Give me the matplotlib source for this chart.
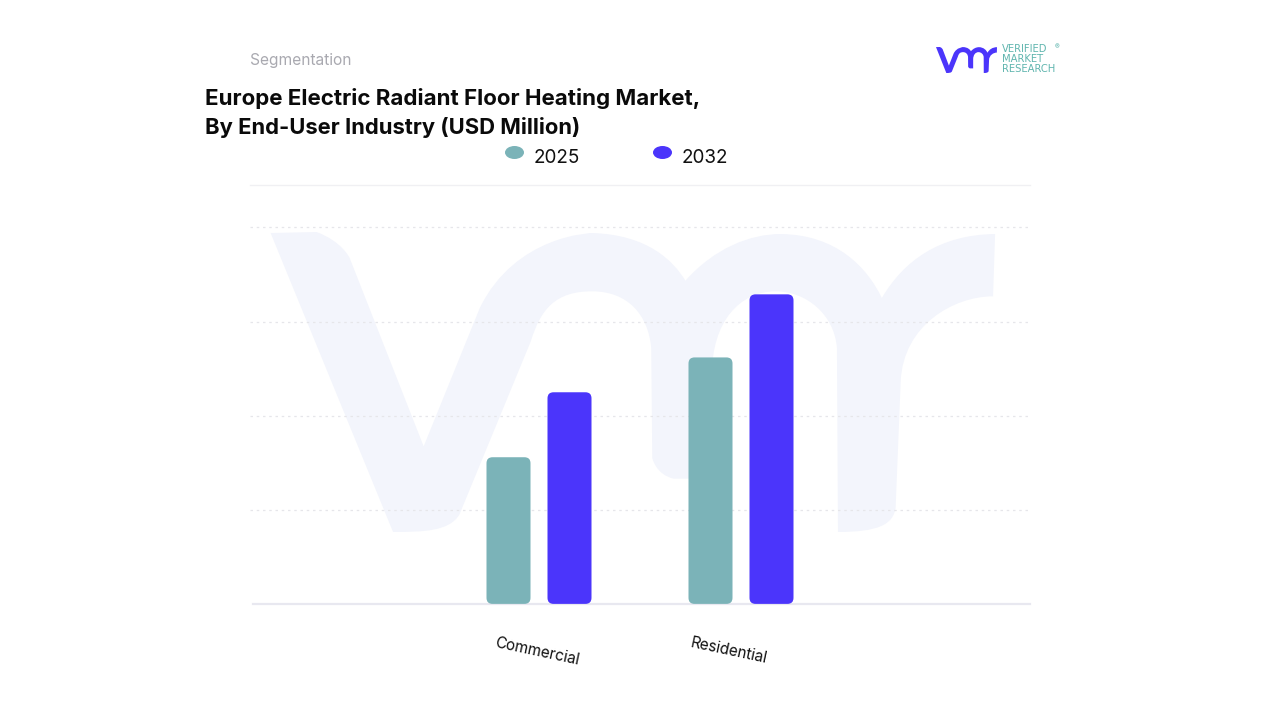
import numpy as np
import matplotlib
matplotlib.use('Agg')
import matplotlib.pyplot as plt
from matplotlib.patches import FancyBboxPatch, Ellipse, PathPatch
from matplotlib.path import Path

categories = ['Commercial', 'Residential']
years = ['2025', '2032']
values_2025 = [156, 262]
values_2032 = [225, 329]
grid_values = [100, 200, 300, 400]
top_value = 445

teal = '#7BB3B8'
blue = '#4B35FB'
W, H = 1280, 720

plt.rcParams['font.family'] = ['Inter', 'DejaVu Sans']

fig = plt.figure(figsize=(W / 100, H / 100), dpi=100)

# background layer in pixel coordinates, for the logo shapes
bg = fig.add_axes([0, 0, 1, 1])
bg.set_xlim(0, W)
bg.set_ylim(H, 0)
bg.axis('off')

# outline of the vmr mark, unit box is 1420 x 900
# L = straight, C = three bezier points
mark = [
    ('M', (0, 3)), ('L', (90, 0)), ('C', (140, 28), (155, 78), (155, 78)),
    ('L', (300, 643)), ('L', (410, 228)), ('C', (480, 8), (630, 3), (630, 3)),
    ('C', (740, 8), (790, 88), (813, 146)), ('C', (870, 48), (940, 6), (1000, 6)),
    ('C', (1110, 8), (1170, 108), (1198, 198)), ('C', (1240, 88), (1310, 8), (1420, 6)),
    ('L', (1416, 193)), ('C', (1340, 193), (1240, 278), (1235, 448)),
    ('L', (1225, 828)), ('C', (1220, 878), (1190, 900), (1112, 900)),
    ('L', (1110, 348)), ('C', (1105, 248), (1050, 178), (990, 178)),
    ('C', (920, 178), (865, 268), (865, 428)), ('L', (865, 740)),
    ('L', (790, 740)), ('C', (755, 728), (748, 678), (748, 678)),
    ('L', (746, 348)), ('C', (740, 248), (700, 178), (630, 178)),
    ('C', (560, 178), (530, 228), (510, 328)), ('L', (370, 848)),
    ('C', (350, 898), (300, 900), (240, 900)), ('L', (0, 3)),
]


def draw_mark(ax, x0, y0, w, h, col, z=0):
    verts, codes = [], []
    for item in mark:
        kind, pts = item[0], item[1:]
        for p in pts:
            verts.append((x0 + p[0] / 1420 * w, y0 + p[1] / 900 * h))
        if kind == 'M':
            codes.append(Path.MOVETO)
        elif kind == 'L':
            codes.append(Path.LINETO)
        else:
            codes += [Path.CURVE4] * 3
    ax.add_patch(PathPatch(Path(verts, codes), fc=col, ec='none', zorder=z))


# watermark
draw_mark(bg, 270.6, 232, 724.5, 300, '#F3F5FC')

# logo top right
draw_mark(bg, 936, 47, 61, 26, blue)
for word, y in zip(['VERIFIED', 'MARKET', 'RESEARCH'], [49.5, 59.5, 69.5]):
    bg.text(1002, y, word, color='#5FB5AE', fontsize=7.2, family=['DejaVu Sans'],
            va='center', ha='left')
bg.text(1055, 47.5, '\u00ae', color='#5FB5AE', fontsize=5, va='center', ha='left')

# chart
ax = fig.add_axes([250 / W, 1 - 604 / H, 780 / W, (604 - 185) / H])
ax.patch.set_alpha(0)
ax.set_xlim(0, 780)
ax.set_ylim(0, top_value)
for s in ax.spines.values():
    s.set_visible(False)
ax.set_xticks([])
ax.set_yticks([])

ax.axhline(top_value, color='#F0F0F3', lw=1, clip_on=False)
ax.plot([3, 780], [0, 0], color='#E8E8F0', lw=1.6, clip_on=False, zorder=1)
for g in grid_values:
    ax.axhline(g, color='#E6E6EA', lw=0.9, ls=(0, (2, 3)), zorder=1)

centers = [289, 491]
bar_w = 44
gap = 61
for c, v1, v2 in zip(centers, values_2025, values_2032):
    for x0, v, col in [(c - gap / 2 - bar_w / 2, v1, teal), (c + gap / 2 - bar_w / 2, v2, blue)]:
        ax.add_patch(FancyBboxPatch((x0 + 6, 6.5), bar_w - 12, v - 13, mutation_aspect=top_value / (604 - 185),
                                    boxstyle='round,pad=6', fc=col, ec='none', zorder=3))

# category labels
for c, name, off in zip(centers, categories, [-2, -12]):
    ax.annotate(name, (c, 0), xytext=(c + off, -50), textcoords='data', ha='center', va='center',
                rotation=-12, fontsize=11, color='#111111', annotation_clip=False)

# legend
bg.add_patch(Ellipse((514.5, 152.5), 19, 13, fc=teal, ec='none'))
bg.add_patch(Ellipse((662.5, 152.5), 19, 13, fc=blue, ec='none'))
bg.text(534, 158, years[0], fontsize=13.6, va='center', ha='left', color='#111111')
bg.text(682, 158, years[1], fontsize=13.6, va='center', ha='left', color='#111111')

# titles
bg.text(250, 60, 'Segmentation', fontsize=11.2, color='#A9A9B0', va='center', ha='left')
bg.text(205, 98.5, 'Europe Electric Radiant Floor Heating Market,', fontsize=16.05, fontweight='bold',
        color='#0A0A0A', va='center', ha='left')
bg.text(205, 127.5, 'By End-User Industry (USD Million)', fontsize=15.8, fontweight='bold',
        color='#0A0A0A', va='center', ha='left')

fig.savefig('out.png', dpi=100, facecolor='white')
